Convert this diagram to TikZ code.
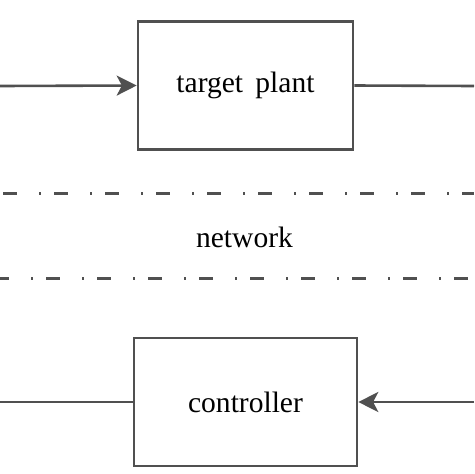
\documentclass[tikz,border=0pt]{standalone}
\usepackage{fontspec}
\setmainfont{Liberation Serif}
\usetikzlibrary{arrows.meta}
\definecolor{linegray}{RGB}{80,80,80}
\tikzset{
	block/.style={draw=linegray,line width=0.65mm,minimum width=53.75mm,minimum height=32mm,font=\fontsize{21}{25}\selectfont},
	link/.style={draw=linegray,line width=0.65mm},
	netline/.style={draw=linegray,line width=0.75mm,dash pattern=on 3.5mm off 5.5mm on 0.5mm off 3.25mm}
}

\begin{document}
\begin{tikzpicture}[line join=miter,>={Stealth[length=5mm,width=5mm,inset=1.3mm]},x=0.25mm,y=-0.25mm]
		\useasboundingbox (0,0) rectangle (474,474);
		\node[block] (plant) at (245.5,85.5) {target\, plant};
		\node[block,minimum width=55.75mm] (ctrl) at (245.5,402) {controller};
		\node[font=\fontsize{21}{25}\selectfont] (network) at (244.5,237) {network};
		\coordinate (plantin) at (0,86);
		\coordinate (plantout) at (474,86);
		\coordinate (ctrlin) at (474,402);
		\coordinate (ctrlout) at (0,402);
		\draw [link,->] (plantin) -- (plant.west);
		\draw [link] (plant.east) -- (plantout);
		\draw [link,->] (ctrlin) -- (ctrl.east);
		\draw [link] (ctrl.west) -- (ctrlout);
		% network borders
		\draw [netline,dash phase=-0.75mm] (0,193) -- (474,193);
		\draw [netline,dash phase=1.25mm] (0,278) -- (474,278);
	\end{tikzpicture}
\end{document}
